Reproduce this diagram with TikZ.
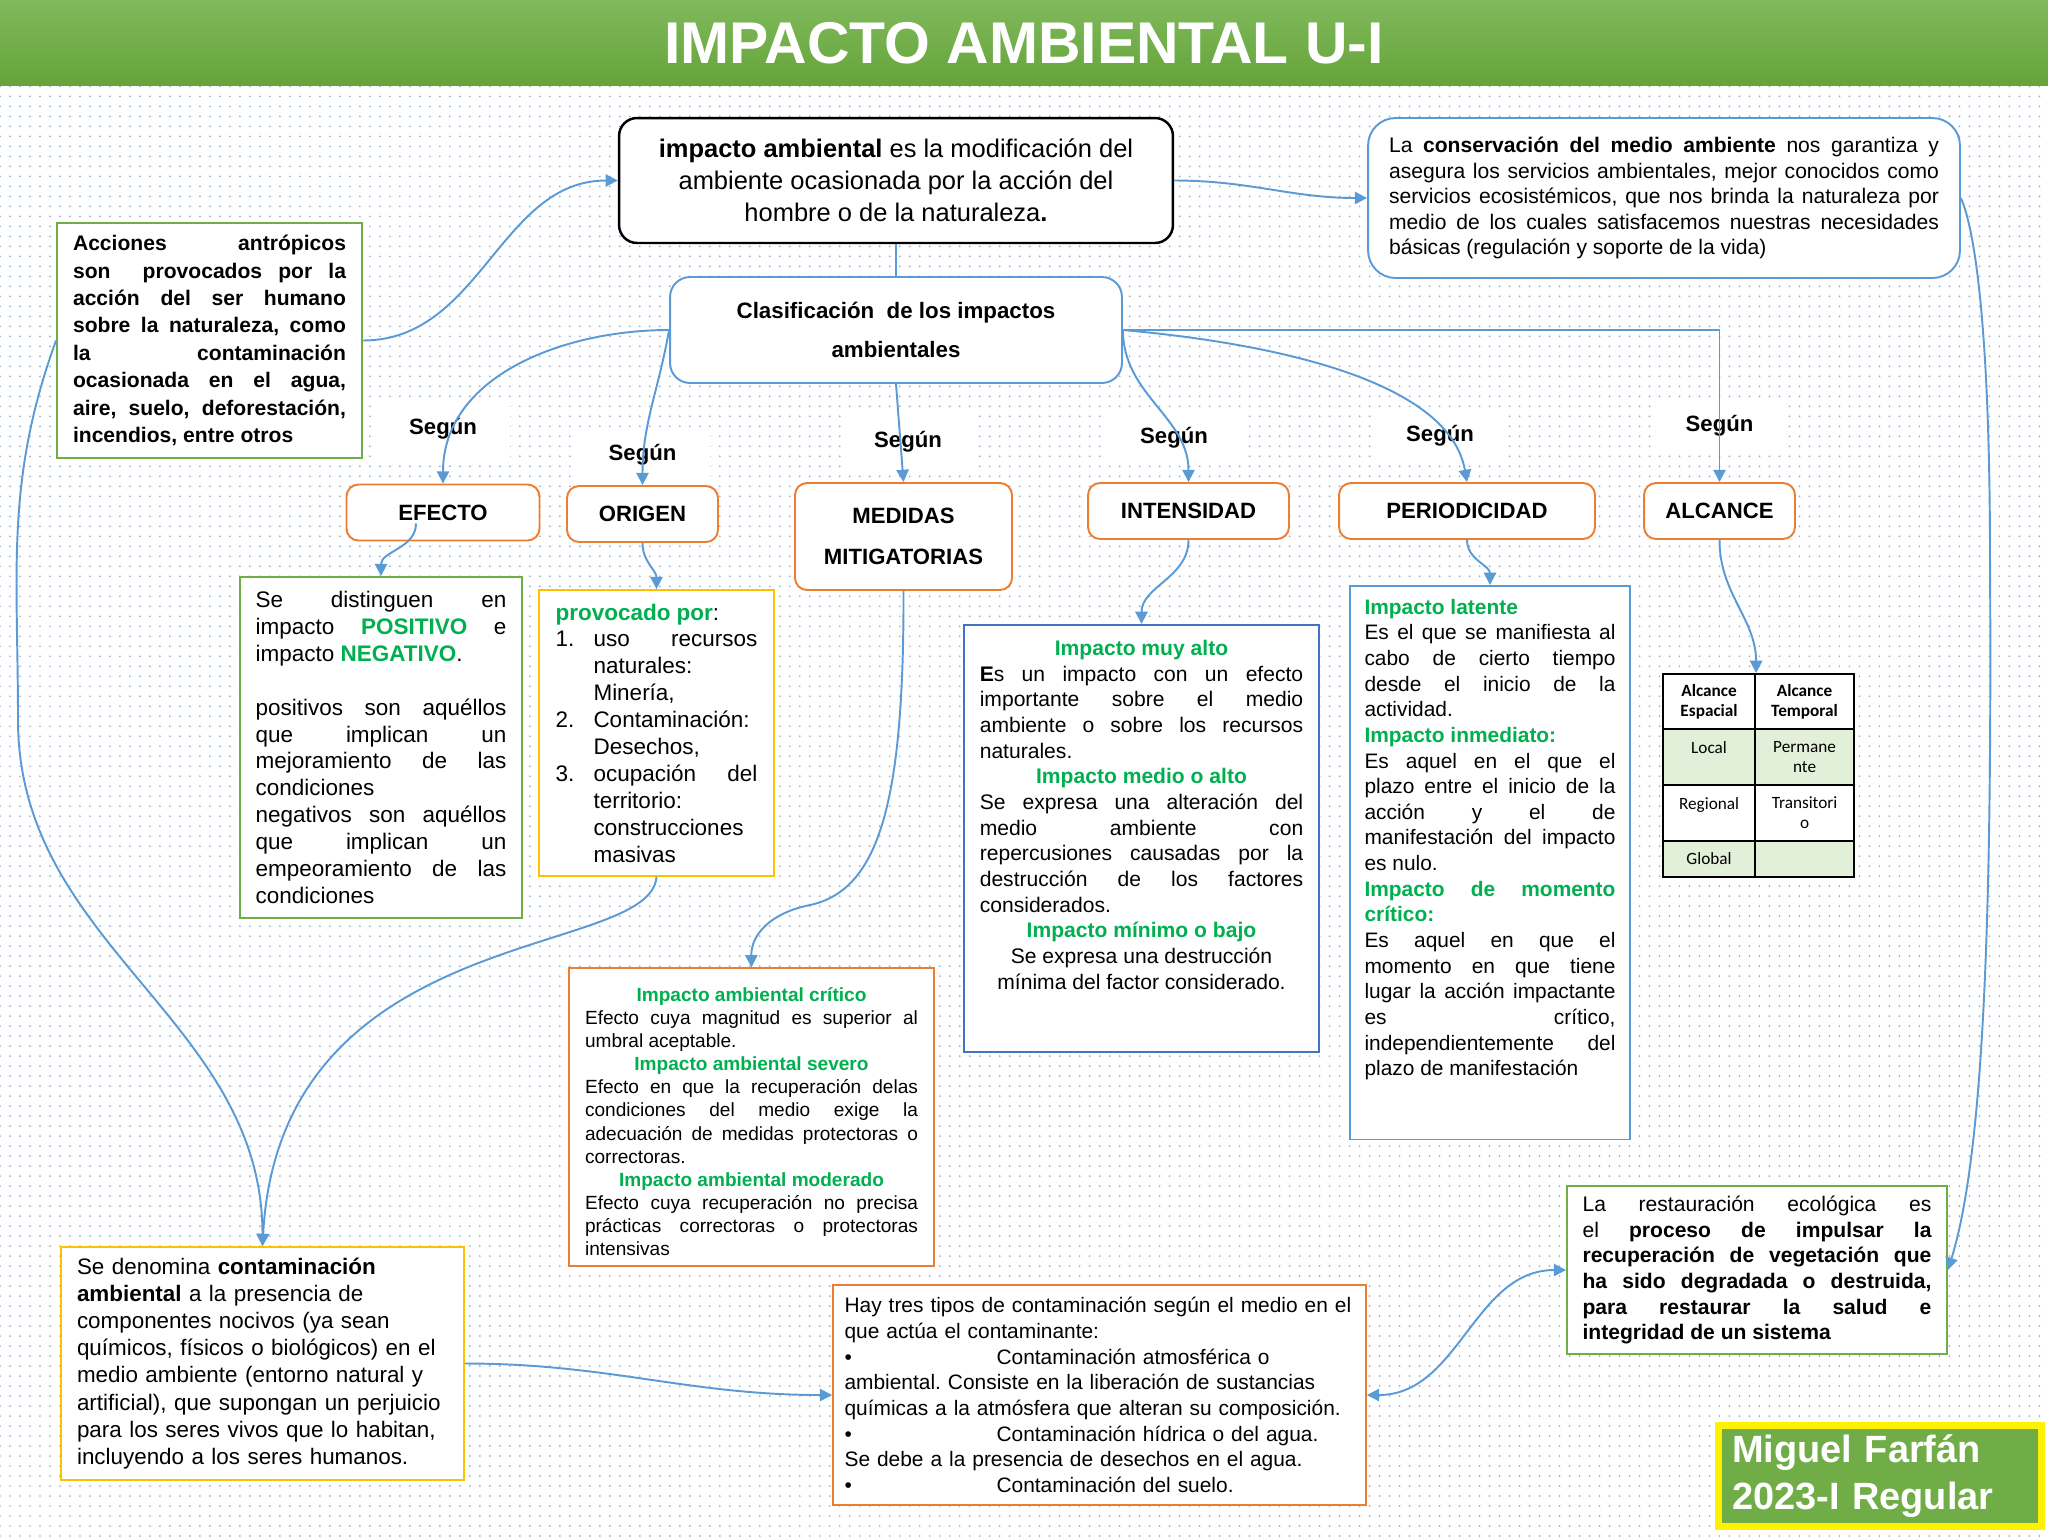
\documentclass[tikz,border=0pt]{standalone}
\usepackage{fontspec}
\setmainfont{Liberation Sans}
\newfontfamily\tablefont{Carlito}
\usepackage{xcolor}
\usetikzlibrary{positioning, arrows.meta, patterns}
\definecolor{lineBlue}{HTML}{5B9BD5}
\definecolor{deepBlue}{HTML}{4472C4}
\definecolor{catOrange}{HTML}{ED7D31}
\definecolor{boxGreen}{HTML}{70AD47}
\definecolor{boxYellow}{HTML}{FFC000}
\definecolor{txtGreen}{HTML}{00B050}
\definecolor{cellGreen}{HTML}{E2EFD9}
\definecolor{titleTop}{HTML}{80B95C}
\definecolor{titleBot}{HTML}{66A43A}
\definecolor{dotBlue}{HTML}{93ACD3}
\tolerance=10000
\hyphenpenalty=10000
\frenchspacing
\pgfdeclarepatternformonly{bgdots}{\pgfqpoint{-1pt}{-1pt}}{\pgfqpoint{1pt}{1pt}}{\pgfqpoint{5.69pt}{5.69pt}}{\pgfpathcircle{\pgfqpoint{0pt}{0pt}}{0.55pt}\pgfusepath{fill}}
\newcommand{\setfs}[2]{\fontsize{#1}{#2}\selectfont}
\newcommand{\greenbf}[1]{{\bfseries\color{txtGreen}#1}}
\newcommand{\impHead}[1]{\par{\centering\leavevmode\color{txtGreen}\bfseries #1\par}}
\newcommand{\contItem}{\makebox[3.04cm][l]{\textbullet}}

\begin{document}
\begin{tikzpicture}[x=0.02cm, y=-0.02cm,
    box/.style={draw, fill=white, line width=1.1pt, inner ysep=0.2cm},
    textbox/.style={box, align=justify, font=\setfs{12}{14.6}},
    catbox/.style={draw=catOrange, fill=white, line width=1.1pt, rounded corners=0.24cm, minimum height=1.12cm, align=center, font=\setfs{12.6}{23}\bfseries},
    segun/.style={fill=white, minimum width=2.7cm, minimum height=1.1cm, font=\setfs{12.6}{15}\bfseries},
    link/.style={draw=lineBlue, line width=1.1pt, -{Triangle[length=7pt,width=7pt]}},
    tcell/.style={draw, line width=1.2pt, anchor=north west, align=center, inner sep=0pt, font=\tablefont\setfs{9.8}{11.4}},
  ]
  \useasboundingbox (0,0) rectangle (2048,1536);
  \fill[white] (0,0) rectangle (2048,1536);
  \fill[pattern=bgdots, pattern color=dotBlue] (0,85) rectangle (2048,1536);
  \shade[top color=titleTop, bottom color=titleBot] (0,0) rectangle (2048,85);
  \node[text=white, font=\setfs{33.5}{40}\bfseries] (title) at (1024,43) {IMPACTO AMBIENTAL U-I};

  % definicion y conservacion
  \node[draw, fill=white, line width=1.4pt, rounded corners=0.36cm, minimum width=11.08cm, minimum height=2.5cm, align=center, font=\setfs{14.5}{18.2}] (defn) at (896,180.5) {\textbf{impacto ambiental} es la modificación del\\ambiente ocasionada por la acción del\\hombre o de la naturaleza\textbf{.}};
  \node[box, draw=lineBlue, rounded corners=0.55cm, text width=11cm, inner xsep=0.42cm, minimum height=3.2cm, align=justify, font=\setfs{12}{14.5}] (cons) at (1664,198) {La \textbf{conservación del medio ambiente} nos garantiza y\linebreak asegura los servicios ambientales, mejor conocidos como\linebreak servicios ecosistémicos, que nos brinda la naturaleza por\linebreak medio de los cuales satisfacemos nuestras necesidades\linebreak básicas (regulación y soporte de la vida)};
  \node[box, draw=boxGreen, text width=5.46cm, inner xsep=0.32cm, minimum height=4.7cm, align=justify, font=\setfs{12}{15.6}\bfseries] (acc) at (209.5,340.5) {Acciones antrópicos\linebreak son\ \ provocados por la\linebreak acción del ser humano\linebreak sobre la naturaleza, como\linebreak la contaminación\linebreak ocasionada en el agua,\linebreak aire, suelo, deforestación,\linebreak incendios, entre otros};
  \node[box, draw=lineBlue, rounded corners=0.4cm, minimum width=9.04cm, minimum height=2.12cm, align=center, font=\setfs{12.7}{22.3}\bfseries] (clasif) at (896,330) {Clasificación\ \ de los impactos\\ambientales};

  % categorias
  \node[catbox, minimum width=3.86cm] (efecto) at (443,512.5) {EFECTO};
  \node[catbox, minimum width=3.02cm] (origen) at (642.5,514) {ORIGEN};
  \node[catbox, minimum width=4.34cm, minimum height=2.14cm] (medidas) at (903.5,536.5) {MEDIDAS\\MITIGATORIAS};
  \node[catbox, minimum width=4.02cm] (inten) at (1188.5,511) {INTENSIDAD};
  \node[catbox, minimum width=5.12cm] (perio) at (1467,511) {PERIODICIDAD};
  \node[catbox, minimum width=3.02cm] (alcance) at (1719.5,511) {ALCANCE};
  \node[segun, above=0.53cm of efecto] (segEfecto) {Según};
  \node[segun, above=0.05cm of origen] (segOrigen) {Según};
  \node[segun, above=0.25cm of medidas, xshift=0.09cm] (segMedidas) {Según};
  \node[segun, above=0.33cm of inten, xshift=-0.29cm] (segInten) {Según};
  \node[segun, above=0.36cm of perio, xshift=-0.54cm] (segPerio) {Según};
  \node[segun, above=0.57cm of alcance] (segAlcance) {Según};

  % textos de cada categoria
  \node[textbox, draw=boxGreen, text width=5.02cm, inner xsep=0.31cm, minimum height=6.82cm, font=\setfs{12.8}{15.3}] (efetxt) at (381,747.5) {Se distinguen en\linebreak impacto \greenbf{POSITIVO} e\linebreak impacto \greenbf{NEGATIVO}.\par\mbox{}\par positivos son aquéllos\linebreak que implican un\linebreak mejoramiento de las\linebreak condiciones\par negativos son aquéllos\linebreak que implican un\linebreak empeoramiento de las\linebreak condiciones};
  \node[textbox, draw=boxYellow, text width=4.04cm, inner xsep=0.33cm, minimum height=5.72cm, font=\setfs{12.8}{15.3}] (origtxt) at (656.5,733) {\greenbf{provocado por}:\par
    \hangindent=0.76cm\hangafter=1\makebox[0.76cm][l]{1.}uso recursos\linebreak naturales:\newline Minería,\par
    \hangindent=0.76cm\hangafter=1\makebox[0.76cm][l]{2.}Contaminación:\newline Desechos,\par
    \hangindent=0.76cm\hangafter=1\makebox[0.76cm][l]{3.}ocupación del\linebreak territorio:\newline construcciones\newline masivas\par};
  \node[textbox, draw=catOrange, text width=6.66cm, inner xsep=0.32cm, minimum height=5.88cm, font=\setfs{10.85}{13.15}] (medtxt) at (751.5,1117) {\impHead{Impacto ambiental crítico}Efecto cuya magnitud es superior al\linebreak umbral aceptable.\impHead{Impacto ambiental severo}Efecto en que la recuperación delas\linebreak condiciones del medio exige la\linebreak adecuación de medidas protectoras o\linebreak correctoras.\impHead{Impacto ambiental moderado}Efecto cuya recuperación no precisa\linebreak prácticas correctoras o protectoras\linebreak intensivas};
  \node[textbox, draw=deepBlue, anchor=north, text width=6.47cm, inner xsep=0.315cm, inner ysep=0.1cm, text depth=8.34cm] (inttxt) at (1141.5,624) {\impHead{Impacto muy alto}\textbf{E}s un impacto con un efecto\linebreak importante sobre el medio\linebreak ambiente o sobre los recursos\linebreak naturales.\impHead{Impacto medio o alto}Se expresa una alteración del\linebreak medio ambiente con\linebreak repercusiones causadas por la\linebreak destrucción de los factores\linebreak considerados.\impHead{Impacto mínimo o bajo}{\centering Se expresa una destrucción\\mínima del factor considerado.\par}};
  \node[textbox, draw=lineBlue, anchor=north, text width=5.02cm, inner xsep=0.29cm, inner ysep=0.26cm, text depth=10.25cm, font=\setfs{11.9}{14.6}] (peritxt) at (1490,585) {\greenbf{Impacto latente}\par Es el que se manifiesta al\linebreak cabo de cierto tiempo\linebreak desde el inicio de la\linebreak actividad.\par\greenbf{Impacto inmediato:}\par Es aquel en el que el\linebreak plazo entre el inicio de la\linebreak acción y el de\linebreak manifestación del impacto\linebreak es nulo.\par\greenbf{Impacto de momento\linebreak crítico:}\par Es aquel en que el\linebreak momento en que tiene\linebreak lugar la acción impactante\linebreak es crítico,\linebreak independientemente del\linebreak plazo de manifestación};

  % tabla de alcance
  \node[tcell, fill=white, minimum width=1.84cm, minimum height=1.1cm, font=\tablefont\setfs{9.8}{11.4}\bfseries] (tA1) at (1662,673) {Alcance\\Espacial};
  \node[tcell, fill=white, minimum width=1.98cm, minimum height=1.1cm, font=\tablefont\setfs{9.8}{11.4}\bfseries] (tB1) at (1754,673) {Alcance\\Temporal};
  \node[tcell, fill=cellGreen, minimum width=1.84cm, minimum height=1.12cm] (tA2) at (1662,728) {Local\\\mbox{}};
  \node[tcell, fill=cellGreen, minimum width=1.98cm, minimum height=1.12cm] (tB2) at (1754,728) {Permane\\nte};
  \node[tcell, fill=white, minimum width=1.84cm, minimum height=1.12cm] (tA3) at (1662,784) {Regional\\\mbox{}};
  \node[tcell, fill=white, minimum width=1.98cm, minimum height=1.12cm] (tB3) at (1754,784) {Transitori\\o};
  \node[tcell, fill=cellGreen, minimum width=1.84cm, minimum height=0.72cm] (tA4) at (1662,840) {Global};
  \node[tcell, fill=cellGreen, minimum width=1.98cm, minimum height=0.72cm] (tB4) at (1754,840) {};

  % contaminacion y restauracion
  \node[box, draw=boxYellow, text width=7.42cm, inner xsep=0.32cm, minimum height=4.66cm, align=left, font=\setfs{12.75}{15.4}] (contam) at (262.5,1363.5) {Se denomina \textbf{contaminación}\\\textbf{ambiental} a la presencia de\\componentes nocivos (ya sean\\químicos, físicos o biológicos) en el\\medio ambiente (entorno natural y\\artificial), que supongan un perjuicio\\para los seres vivos que lo habitan,\\incluyendo a los seres humanos.};
  \node[box, draw=catOrange, text width=10.2cm, inner xsep=0.23cm, minimum height=4.4cm, align=left, font=\setfs{11.9}{14.6}] (haytres) at (1099.5,1395) {Hay tres tipos de contaminación según el medio en el\\que actúa el contaminante:\\\contItem Contaminación atmosférica o\\ambiental. Consiste en la liberación de sustancias\\químicas a la atmósfera que alteran su composición.\\\contItem Contaminación hídrica o del agua.\\Se debe a la presencia de desechos en el agua.\\\contItem Contaminación del suelo.};
  \node[box, draw=boxGreen, text width=6.98cm, inner xsep=0.31cm, minimum height=3.36cm, align=justify, font=\setfs{12}{14.6}] (resto) at (1757,1270) {La restauración ecológica es\linebreak el \textbf{proceso de impulsar la\linebreak recuperación de vegetación que\linebreak ha sido degradada o destruida,\linebreak para restaurar la salud e\linebreak integridad de un sistema}};
  \node[draw=yellow, line width=4pt, fill=boxGreen, text=white, text width=5.92cm, inner xsep=0.27cm, minimum height=2.02cm, align=left, font=\setfs{21.6}{26.7}\bfseries] (autor) at (1880,1476) {Miguel Farfán\\2023-I Regular};

  % conectores
  \draw[draw=lineBlue, line width=1.1pt] (defn.south) -- (clasif.north);
  \draw[link] (acc.east) to[out=0,in=180] (defn.west);
  \draw[link] (defn.east) to[out=0,in=180] (cons.west);
  \draw[link] (cons.east) .. controls (1975,230) and (1990,330) .. (1990,560) .. controls (1992,900) and (1985,1150) .. (resto.east);
  \draw[link] (acc.west) to[out=250,in=90] (18,720) to[out=270,in=90] (contam.north);
  \draw[link] (origtxt.south) .. controls (650,960) and (280,920) .. (contam.north);
  \draw[link] (clasif.west) to[out=180,in=90] (efecto.north);
  \draw[link] (clasif.west) to[out=260,in=90] (origen.north);
  \draw[link] (clasif.south) -- (medidas.north);
  \draw[link] (clasif.east) to[out=270,in=90] (inten.north);
  \draw[link] (clasif.east) .. controls (1290,345) and (1450,385) .. (perio.north);
  \draw[link] (clasif.east) -| (alcance.north);
  \draw[link] ([xshift=-0.54cm,yshift=0.36cm]efecto.south) to[out=270,in=90] (efetxt.north);
  \draw[link] (origen.south) to[out=270,in=90] (origtxt.north);
  \draw[link] (medidas.south) .. controls (904,800) and (880,890) .. (810,905) .. controls (770,913) and (751,935) .. (medtxt.north);
  \draw[link] (inten.south) to[out=270,in=90] (inttxt.north);
  \draw[link] (perio.south) to[out=270,in=90] (peritxt.north);
  \draw[link] (alcance.south) to[out=270,in=90] (tA1.north east);
  \draw[link] (contam.east) to[out=0,in=180] (haytres.west);
  \draw[link, {Triangle[length=7pt,width=7pt]}-{Triangle[length=7pt,width=7pt]}] (haytres.east) to[out=0,in=180] (resto.west);
\end{tikzpicture}
\end{document}
